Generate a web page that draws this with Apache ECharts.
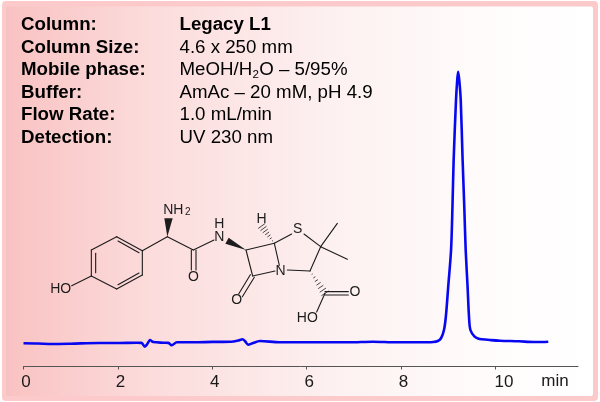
<!DOCTYPE html>
<html><head><meta charset="utf-8">
<style>html,body{margin:0;padding:0;background:#fff}#c{width:600px;height:402px}</style>
<script src="https://cdn.jsdelivr.net/npm/echarts@6/dist/echarts.min.js"></script>
</head><body><div id="c"></div>
<script>
const tickLabels = [0,2,4,6,8,10];
const infoLabels = ['Column:','Column Size:','Mobile phase:','Buffer:','Flow Rate:','Detection:'];
const infoValues = ['Legacy L1','4.6 x 250 mm','','AmAc – 20 mM, pH 4.9','1.0 mL/min','UV 230 nm'];
const times = [0,0.3,0.6,1.0,1.6,2.0,2.4,2.5,2.57,2.63,2.68,2.75,2.97,3.07,3.14,3.25,3.6,4.0,4.4,4.55,4.64,4.7,4.76,4.85,5.01,5.43,5.86,6.4,6.9,7.4,7.9,8.4,8.68,8.78,8.85,8.91,8.95,9.0,9.06,9.09,9.115,9.165,9.19,9.21,9.235,9.265,9.305,9.34,9.37,9.41,9.44,9.47,9.56,9.63,9.71,9.9,10.1,10.5,10.82,11.0,11.12];
const signal = [23.2,23,22.5,22.8,23.5,23.5,23.8,23.6,19.8,23,26.5,24.5,23.8,23.6,21.2,24.2,24.2,24.6,24.8,26,27.2,25,21.8,23.2,25.5,24.2,24.2,24.3,24.2,24.8,24.2,24.2,24.5,25.5,28.5,36.5,50,80,116.5,160,206.5,266.5,286,294.7,286,266.5,206.5,160,116.5,80,50,36.5,29.8,28,27.2,26.4,25.8,25.2,24.5,24.5,24.8];

// Structure drawing of the molecule, in a local 3x space
const mol = { ox:30, oy:190, k:1/3 };
const bonds = [
 [[260,140],[337,182]],[[337,182],[337,255]],[[337,255],[260,297]],[[260,297],[184,258]],[[184,258],[184,180]],[[184,180],[260,140]],
 [[264,153],[327,188]],[[327,249],[264,284]],[[197,190],[197,248]],
 [[125,287],[184,258]],[[337,182],[412,140]],[[412,140],[490,180]],
 [[484,180],[484,240]],[[498,180],[498,240]],[[490,180],[552,150]],
 [[648,180],[733,160]],[[648,180],[668,258]],[[668,258],[735,243]],[[733,160],[748,226]],
 [[661,254],[626,312]],[[673,262],[637,320]],
 [[733,160],[785,132]],[[822,132],[872,170]],[[872,170],[922,100]],[[872,170],[952,208]],[[872,170],[840,243]],[[772,240],[840,243]],
 [[885,305],[955,305]],[[885,315],[955,315]],[[885,310],[860,366]]
];
const wedges = [ [[412,140],[403,85],[428,85]], [[648,180],[586,161],[596,143]] ];
const hashes = [ [[733,160],[695,108]], [[840,243],[885,310]] ];
const atoms = [['HO',92,298],['NH',430,60],['H',568,103],['N',568,142],['H',695,87],['S',803,118],['N',752,243],['O',490,262],['O',620,330],['O',975,307],['HO',832,385]];

const px = p => [mol.ox+p[0]*mol.k, mol.oy+p[1]*mol.k];
const g = [];
g.push({type:'rect',z:-10,shape:{x:2,y:1,width:596,height:400,r:4},style:{fill:'#fccaca'},silent:true});
g.push({type:'rect',z:-9,shape:{x:6,y:6.5,width:587,height:389.5,r:2},silent:true,style:{fill:{type:'linear',x:0,y:0,x2:1,y2:0,colorStops:[
  {offset:0,color:'#f9c2c2'},{offset:0.25,color:'#fcdcdc'},{offset:0.55,color:'#fdf0f0'},{offset:0.8,color:'#fffbfb'},{offset:1,color:'#ffffff'}]}}});
const INK='#1c1c1c';
const FF='Liberation Sans', FS=18.7, BASE=25, STEP=22.5;
function txt(t,x,y,size,weight,fill,align){
  g.push({type:'text',z:10,x:x,y:y,silent:true,style:{text:t,fill:fill||'#000',fontFamily:FF,fontSize:size,fontWeight:weight||'normal',align:align||'left',verticalAlign:'middle'}});
}
infoLabels.forEach((t,i)=>txt(t,21,BASE+i*STEP,FS,'bold'));
infoValues.forEach((t,i)=>{ if(t) txt(t,179.5,BASE+i*STEP,FS,i===0?'bold':'normal'); });
// Mobile phase value with a subscript
txt('MeOH/H',179.5,BASE+2*STEP,FS);
txt('2',252.4,BASE+2*STEP+5,11.5);
txt('O – 5/95%',259.2,BASE+2*STEP,FS);

bonds.forEach(b=>{const a=px(b[0]),c=px(b[1]);g.push({type:'line',z:5,silent:true,shape:{x1:a[0],y1:a[1],x2:c[0],y2:c[1]},style:{stroke:INK,lineWidth:1.1,lineCap:'round'}});});
wedges.forEach(w=>g.push({type:'polygon',z:5,silent:true,shape:{points:w.map(px)},style:{fill:INK}}));
hashes.forEach(h=>{
  const a=h[0],b=h[1],n=7,dx=b[0]-a[0],dy=b[1]-a[1],L=Math.hypot(dx,dy);
  for(let i=1;i<=n;i++){const f=i/n,cx=a[0]+dx*f,cy=a[1]+dy*f,w=f*13,nx=-dy/L*w,ny=dx/L*w;
    const p=px([cx+nx,cy+ny]),q=px([cx-nx,cy-ny]);
    g.push({type:'line',z:5,silent:true,shape:{x1:p[0],y1:p[1],x2:q[0],y2:q[1]},style:{stroke:INK,lineWidth:0.8}});}
});
atoms.forEach(a=>{const p=px([a[1],a[2]]);txt(a[0],p[0],p[1],14,'normal',INK,'center');});
const p2=px([473,68]);txt('2',p2[0],p2[1],10,'normal',INK,'center');
txt('min',555,381,17,'normal','#1a1a1a','center');

const chart = echarts.init(document.getElementById('c'),null,{renderer:'canvas'});
chart.setOption({
  animation:false,
  graphic:{elements:g},
  grid:{left:23.5,right:22,top:66.5,bottom:35.5},
  xAxis:{type:'value',min:0,max:11.75,interval:2,
    axisLine:{show:true,onZero:false,lineStyle:{color:'#555',width:1}},
    axisTick:{show:true,length:3,customValues:tickLabels,lineStyle:{color:'#555',width:1}},
    splitLine:{show:false},
    axisLabel:{customValues:tickLabels,fontFamily:FF,fontSize:17,color:'#1a1a1a',margin:7,
      formatter:v=>v===10?'{w|10}':'{n|'+v+'}',
      rich:{n:{fontFamily:FF,fontSize:17,color:'#1a1a1a',padding:[0,0,0,5]},w:{fontFamily:FF,fontSize:17,color:'#1a1a1a',padding:[0,0,0,17]}}}},
  yAxis:{type:'value',min:0,max:300,show:false,splitLine:{show:false}},
  series:[{type:'line',data:times.map((t,i)=>[t,signal[i]]),showSymbol:false,smooth:0.3,
    lineStyle:{color:'#0808f0',width:2.6},clip:false}]
});
</script></body></html>
